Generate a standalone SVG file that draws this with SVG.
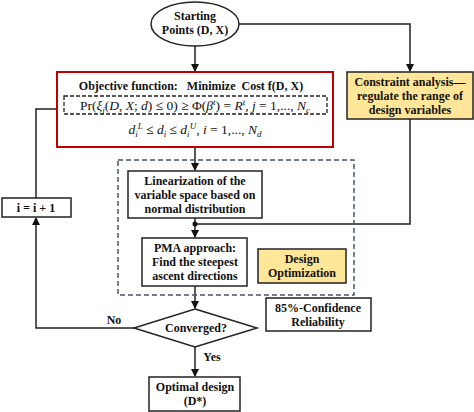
<svg xmlns="http://www.w3.org/2000/svg" width="474" height="412" viewBox="0 0 474 412">
<style>
.t{font-family:"Liberation Serif","Times New Roman",serif;font-weight:bold;font-size:12px;fill:#111;text-anchor:middle}
.m{font-family:"Liberation Serif","Times New Roman",serif;font-size:13.5px;fill:#111}
.box{fill:#fff;stroke:#222;stroke-width:1.5}
.yel{fill:#FFE699;stroke:#222;stroke-width:1.5}
.ln{fill:none;stroke:#222;stroke-width:1.5}
</style>
<defs>
<marker id="ah" markerWidth="8" markerHeight="8" refX="7" refY="4" orient="auto" markerUnits="userSpaceOnUse">
<path d="M0,0 L8,4 L0,8 Z" fill="#111"/>
</marker>
</defs>
<rect width="474" height="412" fill="#fff"/>
<g id="connectors">
<path class="ln" d="M195,46 V71" marker-end="url(#ah)"/>
<path class="ln" d="M239,24 H410 V71" marker-end="url(#ah)"/>
<path class="ln" d="M195,147 V170" marker-end="url(#ah)"/>
<path class="ln" d="M195,218 V237" marker-end="url(#ah)"/>
<path class="ln" d="M410,119 V224 H195"/>
<circle cx="195" cy="224" r="2.5" fill="#111"/>
<path class="ln" d="M195,286 V308" marker-end="url(#ah)"/>
<path class="ln" d="M195,347 V376" marker-end="url(#ah)"/>
<path class="ln" d="M134,328 H36 V218" marker-end="url(#ah)"/>
<path class="ln" d="M36,198 V109 H63" marker-end="url(#ah)"/>
</g>
<g id="design-region">
<rect x="118" y="160" width="236" height="135" fill="none" stroke="#44546A" stroke-width="1.5" stroke-dasharray="5,3"/>
</g>
<g id="start">
<ellipse cx="195" cy="24" rx="44" ry="22" class="box"/>
<text class="t" x="195" y="20">Starting</text>
<text class="t" x="195" y="34">Points (D, X)</text>
</g>
<g id="objective">
<rect x="57" y="72" width="276" height="75" fill="#fff" stroke="#C00000" stroke-width="2"/>
<text class="t" x="191" y="90" font-size="13.5" xml:space="preserve">Objective function:   Minimize  Cost f(D, X)</text>
<rect x="64" y="96" width="263" height="18" fill="none" stroke="#222" stroke-width="1.3" stroke-dasharray="4,2"/>
<text class="m" x="195" y="110" text-anchor="middle">Pr(<tspan font-style="italic">ξ</tspan><tspan font-style="italic" font-size="9" dy="3">j</tspan><tspan dy="-3">(</tspan><tspan font-style="italic">D</tspan>, <tspan font-style="italic">X</tspan>; <tspan font-style="italic">d</tspan>) ≤ 0) ≥ Φ(<tspan font-style="italic">β</tspan><tspan font-style="italic" font-size="9" dy="-5">t</tspan><tspan dy="5">) = </tspan><tspan font-style="italic">R</tspan><tspan font-style="italic" font-size="9" dy="-5">t</tspan><tspan dy="5">, </tspan><tspan font-style="italic">j</tspan> = 1,..., <tspan font-style="italic">N</tspan><tspan font-style="italic" font-size="9" dy="3">c</tspan></text>
<text class="m" x="195" y="134" text-anchor="middle"><tspan font-style="italic">d</tspan><tspan font-style="italic" font-size="9" dy="3">i</tspan><tspan font-style="italic" font-size="9" dy="-8">L</tspan><tspan dy="5"> ≤ </tspan><tspan font-style="italic">d</tspan><tspan font-style="italic" font-size="9" dy="3">i</tspan><tspan dy="-3"> ≤ </tspan><tspan font-style="italic">d</tspan><tspan font-style="italic" font-size="9" dy="3">i</tspan><tspan font-style="italic" font-size="9" dy="-8">U</tspan><tspan dy="5">, </tspan><tspan font-style="italic">i</tspan> = 1,..., <tspan font-style="italic">N</tspan><tspan font-style="italic" font-size="9" dy="3">d</tspan></text>
</g>
<g id="constraint">
<rect x="347" y="72" width="126" height="47" class="yel"/>
<text class="t" x="410" y="86">Constraint analysis—</text>
<text class="t" x="410" y="100">regulate the range of</text>
<text class="t" x="410" y="114">design variables</text>
</g>
<g id="increment">
<rect x="2" y="198" width="69" height="19" class="box"/>
<text class="t" x="36" y="212">i = i + 1</text>
</g>
<g id="linearization">
<rect x="128" y="171" width="134" height="47" class="box"/>
<text class="t" x="195" y="185">Linearization of the</text>
<text class="t" x="195" y="199">variable space based on</text>
<text class="t" x="195" y="213">normal distribution</text>
</g>
<g id="pma">
<rect x="142" y="238" width="105" height="48" class="box"/>
<text class="t" x="195" y="252">PMA approach:</text>
<text class="t" x="195" y="266">Find the steepest</text>
<text class="t" x="195" y="280">ascent directions</text>
</g>
<g id="design-opt">
<rect x="258" y="249" width="88" height="34" class="yel"/>
<text class="t" x="302" y="263">Design</text>
<text class="t" x="302" y="277">Optimization</text>
</g>
<g id="confidence">
<rect x="266" y="298" width="105" height="33" class="box"/>
<text class="t" x="318" y="312">85%-Confidence</text>
<text class="t" x="318" y="326">Reliability</text>
</g>
<g id="converged">
<polygon points="195,309 257,328 195,347 134,328" class="box"/>
<text class="t" x="196" y="332">Converged?</text>
<text class="t" x="114" y="324">No</text>
<text class="t" x="212" y="361">Yes</text>
</g>
<g id="optimal">
<rect x="149" y="377" width="91" height="34" class="box"/>
<text class="t" x="195" y="391">Optimal design</text>
<text class="t" x="195" y="405">(D*)</text>
</g>
</svg>
